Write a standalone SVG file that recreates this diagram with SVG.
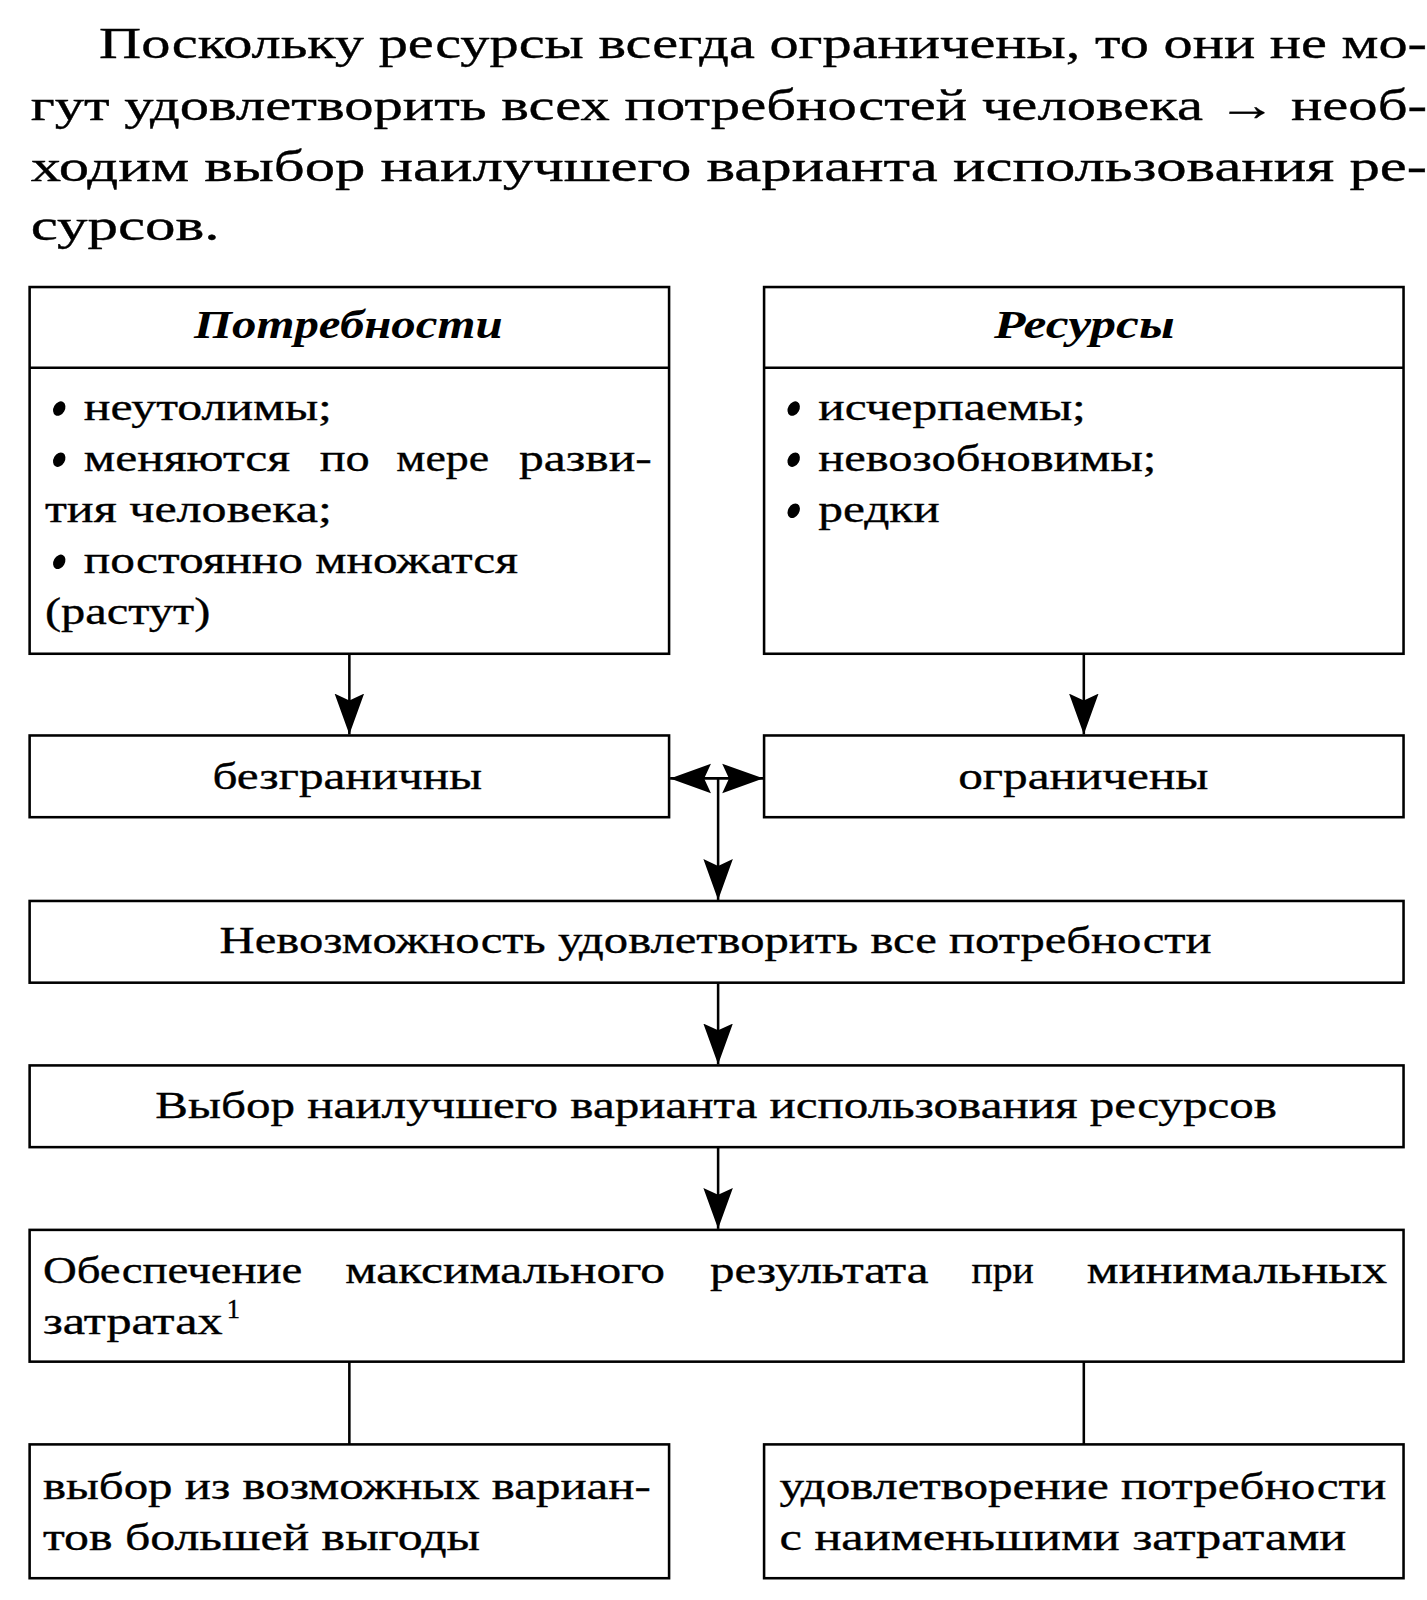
<svg xmlns="http://www.w3.org/2000/svg" width="1427" height="1600" viewBox="0 0 1427 1600">
<style>
text{font-family:"Liberation Serif","Times New Roman",serif;fill:#000;stroke:#000;stroke-width:0.35}
.p{font-size:44px}
.t{font-size:38px}
.h{font-size:40px;font-weight:bold;font-style:italic;stroke-width:0}
.sup{font-size:26px}
.box{fill:#fff;stroke:#000;stroke-width:2.5}
.ln{stroke:#000;stroke-width:2.5;fill:none}
.bul{fill:#000}
</style>
<defs>
<marker id="ah" markerUnits="userSpaceOnUse" markerWidth="40" markerHeight="30" viewBox="0 0 36 26" refX="36" refY="13" orient="auto-start-reverse">
<polygon points="0,0 36,13 0,26 6,13" fill="#000"/>
</marker>
</defs>
<rect width="1427" height="1600" fill="#fff"/>
<g transform="scale(1.0215)">
<g id="paragraph">
<text class="p" x="97" y="57" textLength="1300" lengthAdjust="spacingAndGlyphs">Поскольку ресурсы всегда ограничены, то они не мо-</text>
<text class="p" x="30" y="117" textLength="1367" lengthAdjust="spacingAndGlyphs">гут удовлетворить всех потребностей человека → необ-</text>
<text class="p" x="30" y="177" textLength="1367" lengthAdjust="spacingAndGlyphs">ходим выбор наилучшего варианта использования ре-</text>
<text class="p" x="30" y="235" textLength="185" lengthAdjust="spacingAndGlyphs">сурсов.</text>
</g>
<g id="needs">
<rect class="box" x="29" y="281" width="626" height="359"/>
<line class="ln" x1="29" y1="360" x2="655" y2="360"/>
<text class="h" x="190" y="331" textLength="302" lengthAdjust="spacingAndGlyphs">Потребности</text>
<ellipse class="bul" cx="58" cy="400" rx="5.5" ry="7.5" transform="rotate(30 58 400)"/>
<text class="t" x="82" y="411" textLength="243" lengthAdjust="spacingAndGlyphs">неутолимы;</text>
<ellipse class="bul" cx="58" cy="450" rx="5.5" ry="7.5" transform="rotate(30 58 450)"/>
<text class="t" x="82" y="461" textLength="202" lengthAdjust="spacingAndGlyphs">меняются</text>
<text class="t" x="313" y="461" textLength="49" lengthAdjust="spacingAndGlyphs">по</text>
<text class="t" x="388" y="461" textLength="91" lengthAdjust="spacingAndGlyphs">мере</text>
<text class="t" x="508" y="461" textLength="130" lengthAdjust="spacingAndGlyphs">разви-</text>
<text class="t" x="44" y="511" textLength="281" lengthAdjust="spacingAndGlyphs">тия человека;</text>
<ellipse class="bul" cx="58" cy="550" rx="5.5" ry="7.5" transform="rotate(30 58 550)"/>
<text class="t" x="82" y="561" textLength="425" lengthAdjust="spacingAndGlyphs">постоянно множатся</text>
<text class="t" x="44" y="611" textLength="162" lengthAdjust="spacingAndGlyphs">(растут)</text>
</g>
<g id="resources">
<rect class="box" x="748" y="281" width="626" height="359"/>
<line class="ln" x1="748" y1="360" x2="1374" y2="360"/>
<text class="h" x="973" y="331" textLength="177" lengthAdjust="spacingAndGlyphs">Ресурсы</text>
<ellipse class="bul" cx="777" cy="400" rx="5.5" ry="7.5" transform="rotate(30 777 400)"/>
<text class="t" x="801" y="411" textLength="262" lengthAdjust="spacingAndGlyphs">исчерпаемы;</text>
<ellipse class="bul" cx="777" cy="450" rx="5.5" ry="7.5" transform="rotate(30 777 450)"/>
<text class="t" x="801" y="461" textLength="331" lengthAdjust="spacingAndGlyphs">невозобновимы;</text>
<ellipse class="bul" cx="777" cy="500" rx="5.5" ry="7.5" transform="rotate(30 777 500)"/>
<text class="t" x="801" y="511" textLength="119" lengthAdjust="spacingAndGlyphs">редки</text>
</g>
<g id="unlimited">
<rect class="box" x="29" y="720" width="626" height="80"/>
<text class="t" x="208" y="772" textLength="264" lengthAdjust="spacingAndGlyphs">безграничны</text>
</g>
<g id="limited">
<rect class="box" x="748" y="720" width="626" height="80"/>
<text class="t" x="938" y="772" textLength="245" lengthAdjust="spacingAndGlyphs">ограничены</text>
</g>
<g id="impossibility">
<rect class="box" x="29" y="882" width="1345" height="80"/>
<text class="t" x="215" y="933" textLength="971" lengthAdjust="spacingAndGlyphs">Невозможность удовлетворить все потребности</text>
</g>
<g id="choice">
<rect class="box" x="29" y="1043" width="1345" height="80"/>
<text class="t" x="152" y="1094" textLength="1098" lengthAdjust="spacingAndGlyphs">Выбор наилучшего варианта использования ресурсов</text>
</g>
<g id="maximum">
<rect class="box" x="29" y="1204" width="1345" height="129"/>
<text class="t" x="42" y="1256" textLength="254" lengthAdjust="spacingAndGlyphs">Обеспечение</text>
<text class="t" x="338" y="1256" textLength="313" lengthAdjust="spacingAndGlyphs">максимального</text>
<text class="t" x="695" y="1256" textLength="214" lengthAdjust="spacingAndGlyphs">результата</text>
<text class="t" x="951" y="1256" textLength="61" lengthAdjust="spacingAndGlyphs">при</text>
<text class="t" x="1064" y="1256" textLength="294" lengthAdjust="spacingAndGlyphs">минимальных</text>
<text class="t" x="42" y="1306" textLength="176" lengthAdjust="spacingAndGlyphs">затратах</text>
<text class="sup" x="222" y="1290">1</text>
</g>
<g id="benefit">
<rect class="box" x="29" y="1414" width="626" height="131"/>
<text class="t" x="42" y="1467" textLength="595" lengthAdjust="spacingAndGlyphs">выбор из возможных вариан-</text>
<text class="t" x="42" y="1517" textLength="428" lengthAdjust="spacingAndGlyphs">тов большей выгоды</text>
</g>
<g id="least-cost">
<rect class="box" x="748" y="1414" width="626" height="131"/>
<text class="t" x="763" y="1467" textLength="594" lengthAdjust="spacingAndGlyphs">удовлетворение потребности</text>
<text class="t" x="763" y="1517" textLength="555" lengthAdjust="spacingAndGlyphs">с наименьшими затратами</text>
</g>
<g id="connectors">
<line class="ln" x1="342" y1="640" x2="342" y2="719" marker-end="url(#ah)"/>
<line class="ln" x1="1061" y1="640" x2="1061" y2="719" marker-end="url(#ah)"/>
<line class="ln" x1="656" y1="762" x2="747" y2="762" marker-start="url(#ah)" marker-end="url(#ah)"/>
<line class="ln" x1="703" y1="762" x2="703" y2="881" marker-end="url(#ah)"/>
<line class="ln" x1="703" y1="962" x2="703" y2="1042" marker-end="url(#ah)"/>
<line class="ln" x1="703" y1="1123" x2="703" y2="1203" marker-end="url(#ah)"/>
<line class="ln" x1="342" y1="1333" x2="342" y2="1414"/>
<line class="ln" x1="1061" y1="1333" x2="1061" y2="1414"/>
</g>
</g>
</svg>
